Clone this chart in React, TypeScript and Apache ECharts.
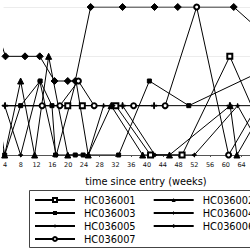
import React, { useEffect, useRef } from "react";
import * as echarts from "echarts";

// x-axis: visible window of weeks and tick labels
const xRange = { min: 3.625, max: 66.125 };
const xTickValues = [4, 8, 12, 16, 20, 24, 28, 32, 36, 40, 44, 48, 52, 56, 60, 64];
const yLevels = { min: 0, max: 3, interval: 1 };

// series: [week, value]
const HC036001: number[][] = [[0, 1], [19.9, 1], [23.6, 1], [32.1, 1], [40.9, 0], [48.9, 0], [61, 2], [72, 0]];
const HC036002: number[][] = [[0, 2], [3.9, 0], [7.95, 1.5], [11.5, 0], [15.05, 2], [19.9, 0], [25.1, 0], [30.9, 1], [38.9, 0], [45.7, 0], [61.1, 1], [62.8, 0], [70, 1]];
const HC036003: number[][] = [[0, 1], [3.9, 0], [7.95, 1], [12.9, 1.5], [15.9, 1], [16.8, 0], [21.8, 0], [23.8, 0], [32.8, 0], [40.6, 1.5], [50.6, 1], [77, 2]];
const HC036004: number[][] = [[0, 1], [3.9, 1], [7.95, 0], [12.8, 1.5], [17, 0], [22, 1.5], [25.1, 0], [29, 1], [33.8, 1], [42, 0], [52, 0], [63, 1], [70, 0]];
const HC036005: number[][] = [[0, 1], [4, 1], [31.1, 1], [33.8, 1], [41.8, 1], [61, 1], [70, 1]];
const HC036006: number[][] = [[0, 3], [4.1, 2], [9.05, 2], [12.8, 2], [16.55, 1.5], [19.9, 1.5], [21.8, 1.5], [25.7, 3], [33.8, 3], [41.9, 3], [47.8, 3], [62, 3], [76, 2]];
const HC036007: number[][] = [[0, 1], [13.4, 1], [17.9, 1], [22.6, 1.5], [26.6, 1], [36.6, 1], [44.6, 1], [52.6, 3], [60.7, 0], [68, 1]];

const seriesNames = ["HC036001", "HC036002", "HC036003", "HC036004", "HC036005", "HC036006", "HC036007"];
const seriesData = [HC036001, HC036002, HC036003, HC036004, HC036005, HC036006, HC036007];

const PLUS = "path://M-0.14,-1H0.14V-0.14H1V0.14H0.14V1H-0.14V0.14H-1V-0.14H-0.14Z";
const symbols = ["emptyRect", "triangle", "rect", PLUS, PLUS, "diamond", "emptyCircle"];
const symbolSizes = [5, 6, 4, 4, 6, 7, 5];

const legendCol1 = ["HC036001", "HC036003", "HC036005", "HC036007"];
const legendCol2 = ["HC036002", "HC036004", "HC036006"];
const axisTitle = "time since entry (weeks)";

export default function App() {
  const ref = useRef<HTMLDivElement>(null);
  useEffect(() => {
    document.body.style.margin = "0";
    if (!ref.current) return;
    const chart = echarts.init(ref.current, null, { renderer: "svg" });
    const font = "DejaVu Sans";
    const legendBase = {
      orient: "vertical" as const,
      top: 195,
      height: 60,
      padding: 0,
      itemWidth: 40,
      itemHeight: 5,
      itemGap: 3,
      textStyle: { fontFamily: font, fontSize: 9.8, color: "#000", padding: [0, 0, 0, 4] },
    };
    chart.setOption({
      animation: false,
      backgroundColor: "#fff",
      grid: { left: 0, right: 0, top: 7, bottom: 95, containLabel: false },
      xAxis: {
        type: "value",
        min: xRange.min,
        max: xRange.max,
        offset: 4,
        axisLine: { show: true, lineStyle: { color: "#555", width: 1 } },
        axisTick: { show: true, length: 2, customValues: xTickValues, lineStyle: { color: "#555" } },
        axisLabel: { fontFamily: font, fontSize: 6.5, color: "#111", margin: 2, customValues: xTickValues },
        splitLine: { show: false },
      },
      yAxis: {
        type: "value",
        min: yLevels.min,
        max: yLevels.max,
        interval: yLevels.interval,
        axisLine: { show: false },
        axisTick: { show: false },
        axisLabel: { show: false },
        splitLine: { show: true, lineStyle: { color: "#ececec", width: 1 } },
      },
      legend: [
        { ...legendBase, left: 34, data: legendCol1 },
        { ...legendBase, left: 152.7, data: legendCol2 },
      ],
      graphic: [
        {
          type: "rect",
          shape: { x: 29.5, y: 190.5, width: 260, height: 57 },
          style: { fill: "none", stroke: "#444", lineWidth: 1 },
          z: -1,
        },
        {
          type: "text",
          x: 146,
          y: 181,
          style: { text: axisTitle, fontFamily: font, fontSize: 9.8, fill: "#000", align: "center", verticalAlign: "middle" },
        },
      ],
      series: seriesNames.map((name, i) => ({
        name,
        type: "line",
        data: seriesData[i],
        symbol: symbols[i],
        symbolSize: symbolSizes[i],
        showAllSymbol: true,
        lineStyle: { color: "#000", width: 1 },
        itemStyle: { color: "#000", borderColor: "#000" },
        emphasis: { disabled: true },
      })),
    });
    return () => chart.dispose();
  }, []);
  return <div ref={ref} style={{ width: 250, height: 250 }} />;
}
